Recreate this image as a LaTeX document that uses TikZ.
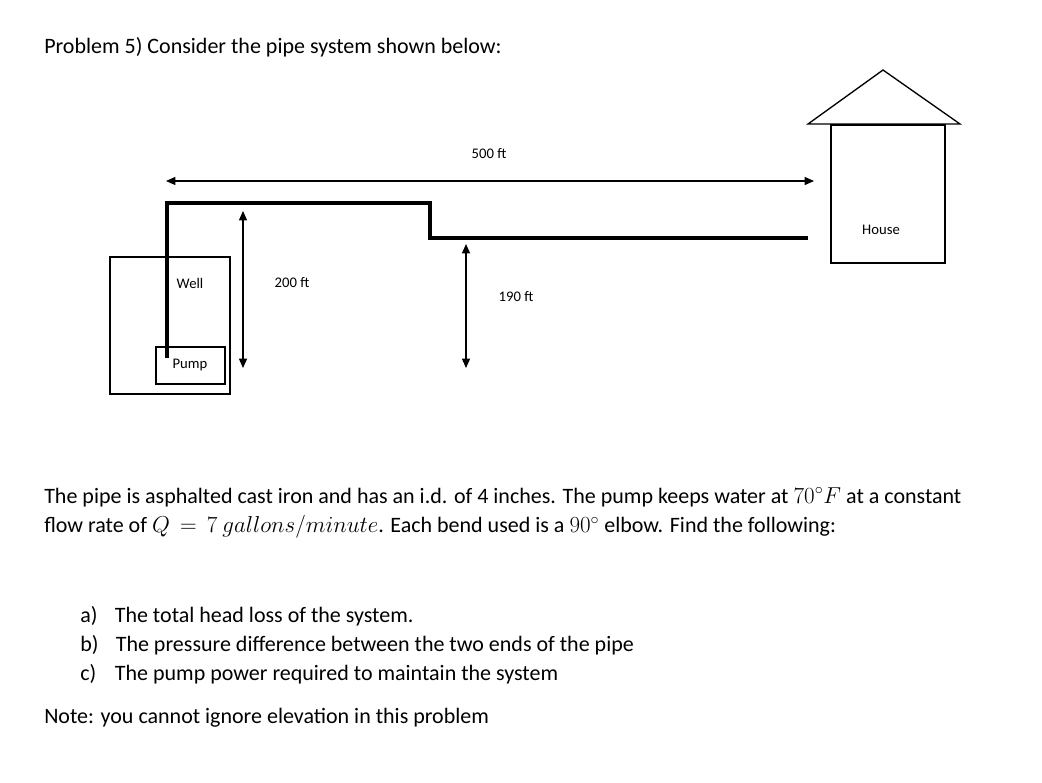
\documentclass[tikz,border=0pt]{standalone}
\usepackage{fontspec}
\setmainfont{Carlito}
\usetikzlibrary{arrows.meta}
\begin{document}
\begin{tikzpicture}[x=0.75pt,y=-0.75pt,
  body/.style={anchor=west,inner sep=0,font=\fontsize{16.5}{19}\selectfont},
  small/.style={inner sep=0,font=\fontsize{11}{13}\selectfont},
  box/.style={draw,line width=1pt},
  dim/.style={line width=1pt,{Triangle[length=7pt,width=6pt]}-{Triangle[length=7pt,width=6pt]}},
  pipe/.style={line width=2.6pt}]
\useasboundingbox (0,0) rectangle (1042,782);
\node[body] (title) at (44,47) {Problem 5) Consider the pipe system shown below:};
% house
\draw[box] (831,125) rectangle (945,263);
\draw[line width=1pt] (808,124) -- (883,70) -- (960,124) -- cycle;
\node[small] (house) at (881,230) {House};
% well & pump
\draw[box] (110,257) rectangle (230,394);
\node[small] (well) at (190,283) {Well};
\draw[box] (156,347) rectangle (225,384);
\node[small] (pump) at (190,365) {Pump};
% pipe
\coordinate (p0) at (167,358);
\coordinate (p1) at (167,203);
\coordinate (p2) at (430,203);
\coordinate (p3) at (430,238);
\coordinate (p4) at (808,238);
\draw[pipe] (p0) -- (p1) -- (p2) -- (p3) -- (p4);
% dimensions
\coordinate (a1) at (166,181); \coordinate (a2) at (814,181);
\draw[dim] (a1) -- (a2);
\node[small] (l500) at (489,154) {500 ft};
\coordinate (b1) at (243,211); \coordinate (b2) at (243,368);
\draw[dim] (b1) -- (b2);
\node[small] (l200) at (292,283) {200 ft};
\coordinate (c1) at (466,244); \coordinate (c2) at (466,368);
\draw[dim] (c1) -- (c2);
\node[small] (l190) at (516,297) {190 ft};
% text
\node[body] (t1) at (44,497) {The pipe is asphalted cast iron and has an i.d. of 4 inches. The pump keeps water at $70^\circ F$ at a constant};
\node[body] (t2) at (44,527) {flow rate of $Q\,=\,7\ gallons/minute$. Each bend used is a $90^\circ$ elbow. Find the following:};
\node[body] (qa) at (80,616) {a)\hspace{13pt}The total head loss of the system.};
\node[body] (qb) at (80,645) {b)\hspace{13pt}The pressure difference between the two ends of the pipe};
\node[body] (qc) at (80,674) {c)\hspace{14pt}The pump power required to maintain the system};
\node[body] (note) at (44,718) {Note: you cannot ignore elevation in this problem};
\end{tikzpicture}
\end{document}
